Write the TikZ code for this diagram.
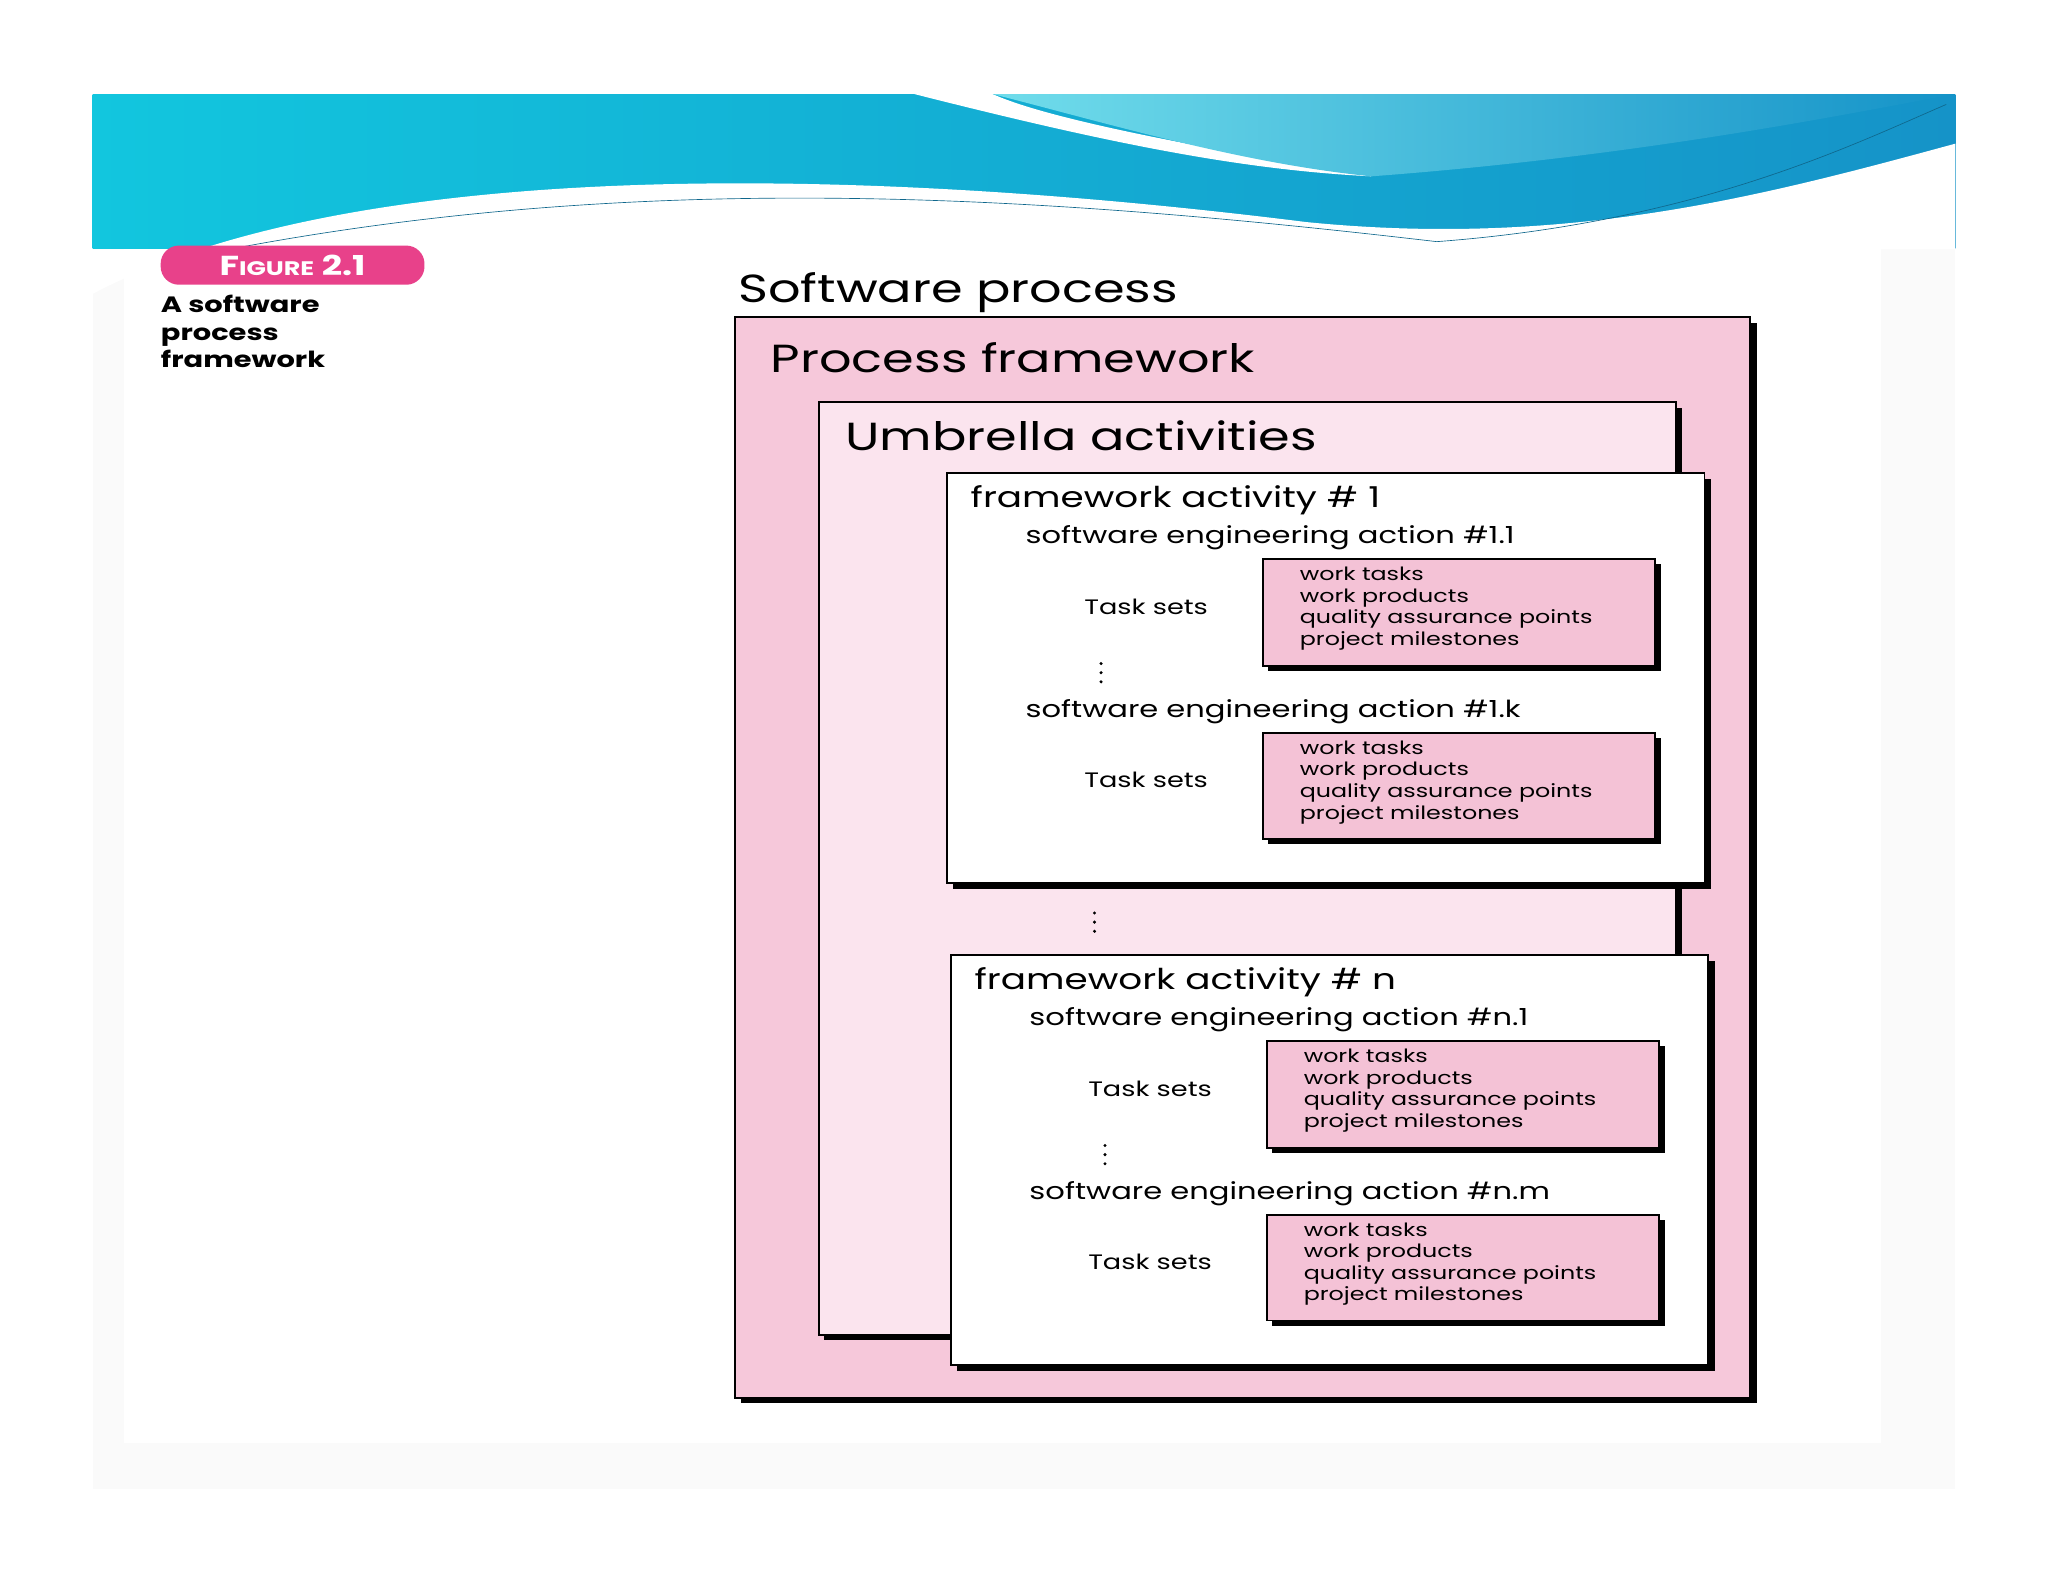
\documentclass[tikz,border=0pt]{standalone}
\usepackage{fontspec}
\setmainfont{Poppins}[FakeStretch=1.3]
\definecolor{pinkA}{HTML}{F6C8DA}
\definecolor{pinkB}{HTML}{FBE4EE}
\definecolor{pinkC}{HTML}{F4C2D6}
\definecolor{magenta}{HTML}{E8418A}
\definecolor{blueA}{HTML}{1593C8}
\definecolor{blueB}{HTML}{12C6DE}
\tikzset{
 box/.style={draw=black,line width=1.5pt},
 lbl/.style={anchor=west,inner sep=0pt},
 item/.style={anchor=north west,inner sep=0pt,align=left,font=\fontsize{14}{16.5}\selectfont},
 vdot/.pic={\foreach \k in {-7,0,7} \fill[black] (0,\k) circle (1.3pt);}
}
\newcommand{\tasklines}{work tasks\\work products\\quality assurance points\\project milestones}
\begin{document}
\begin{tikzpicture}[x=1pt,y=-1pt]
\useasboundingbox (0,0) rectangle (1568,1211);
\fill[white] (0,0) rectangle (1568,1211);
\fill[black!2] (71,190) rectangle (1497,1140);
\fill[white] (95,190) rectangle (1440,1105);
% banner
\shade[left color=blueB,right color=blueA] (71,72) rectangle (1497,190);
\fill[white] (71,230) -- (71,225) .. controls (250,130) and (600,120) .. (1000,170) .. controls (1200,190) and (1350,150) .. (1497,110) -- (1497,191) -- (71,191) -- cycle;
\fill[white] (700,72) .. controls (850,110) and (950,130) .. (1050,135) .. controls (900,110) and (800,90) .. (760,72) -- cycle;
\shade[left color=blueB!60!white,right color=blueA] (760,72) .. controls (850,95) and (950,125) .. (1050,135) .. controls (1250,120) and (1400,90) .. (1497,72) -- cycle;
\draw[blueA!70!black,line width=0.5pt] (180,190) .. controls (500,130) and (800,150) .. (1100,185) .. controls (1300,170) and (1420,110) .. (1490,80);
% figure label
\node[fill=magenta,rounded corners=14pt,minimum width=202pt,minimum height=30pt,inner sep=0pt,text=white,font=\bfseries\fontsize{21}{21}\selectfont] (fig) at (224,203) {F{\fontsize{15}{15}\selectfont IGURE} 2.1};
\node[item,font=\bfseries\fontsize{17}{21}\selectfont] (cap) at (123,226) {A software\\process\\framework};
% software process
\node[lbl,font=\fontsize{30}{30}\selectfont] (sp) at (565,224) {Software process};
\fill[black] (567,247) rectangle (1345,1074);
\filldraw[box,fill=pinkA] (563,243) rectangle (1340,1070);
\node[lbl,font=\fontsize{30}{30}\selectfont] (pf) at (590,274) {Process framework};
\fill[black] (631,312) rectangle (1288,1026);
\filldraw[box,fill=pinkB] (627,308) rectangle (1283,1022);
\node[lbl,font=\fontsize{30}{30}\selectfont] (ua) at (647,334) {Umbrella activities};
% activity blocks
\foreach \dx/\dy/\n/\a/\b in {0/0/1/1.1/1.k, 3/369/n/n.1/n.m}{
 \begin{scope}[shift={(\dx,\dy)}]
 \fill[black] (730,367) rectangle (1310,681);
 \filldraw[box,fill=white] (725,362) rectangle (1305,676);
 \node[lbl,font=\fontsize{22}{22}\selectfont] at (743,383) {framework activity \# \n};
 \node[lbl,font=\fontsize{18}{18}\selectfont] at (785,412) {software engineering action \#\a};
 \node[lbl,font=\fontsize{16}{16}\selectfont] at (830,465) {Task sets};
 \fill[black] (971,432) rectangle (1272,514);
 \filldraw[box,fill=pinkC] (967,428) rectangle (1267,510);
 \node[item] at (995,434) {\tasklines};
 \pic at (843,515) {vdot};
 \node[lbl,font=\fontsize{18}{18}\selectfont] at (785,545) {software engineering action \#\b};
 \node[lbl,font=\fontsize{16}{16}\selectfont] at (830,597) {Task sets};
 \fill[black] (971,565) rectangle (1272,646);
 \filldraw[box,fill=pinkC] (967,561) rectangle (1267,642);
 \node[item] at (995,567) {\tasklines};
 \end{scope}}
\pic at (838,706) {vdot};
\end{tikzpicture}
\end{document}
